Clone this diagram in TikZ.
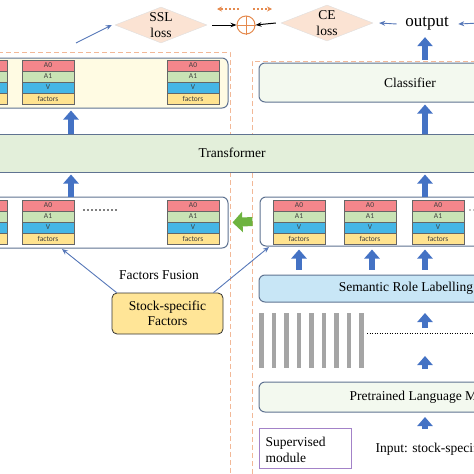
\documentclass[tikz,border=0pt]{standalone}
\usepackage{fontspec}
\setmainfont{Liberation Serif}
\newfontfamily\cellfont{Carlito}
\usetikzlibrary{arrows.meta, shapes.geometric}

\definecolor{a0col}{HTML}{F4868B}
\definecolor{a1col}{HTML}{C9E3B5}
\definecolor{vcol}{HTML}{45B6E6}
\definecolor{fcol}{HTML}{FFE38F}
\definecolor{blockline}{HTML}{5F7391}
\definecolor{yellowbg}{HTML}{FFFBE3}
\definecolor{transfill}{HTML}{E3EFDA}
\definecolor{clsfill}{HTML}{F3F9EF}
\definecolor{srlfill}{HTML}{C8E6F6}
\definecolor{lossfill}{HTML}{FBE3D3}
\definecolor{plusor}{HTML}{E58A4E}
\definecolor{dashorange}{HTML}{F2B897}
\definecolor{bluearr}{HTML}{4472C4}
\definecolor{thinblue}{HTML}{5677B8}
\definecolor{greenarr}{HTML}{6DB33F}
\definecolor{supcol}{HTML}{A382C8}
\definecolor{barcol}{HTML}{A5A5A5}
\definecolor{ssfcol}{HTML}{FFE597}

\tikzset{
  cell/.style={draw=gray!80!black, line width=0.5pt, minimum width=52pt, minimum height=11pt, inner sep=0pt, text=black!75, font=\cellfont\fontsize{7.5}{8}\selectfont},
  block/.style={draw=blockline, line width=1pt, rounded corners=6pt, inner sep=0pt},
  bigup/.style={line width=6pt, draw=bluearr, -{Triangle[length=9pt,width=15pt]}},
  thinarr/.style={draw=thinblue, line width=0.9pt, -{Stealth[length=6pt,width=5pt]}},
  loss/.style={diamond, fill=lossfill, draw=gray!25, inner sep=0pt, minimum width=92pt, minimum height=36pt},
  dashbox/.style={draw=dashorange, line width=0.8pt, dash pattern=on 5pt off 3pt},
  lbl/.style={font=\fontsize{13.5}{16}\selectfont, align=center}
}

\begin{document}
\begin{tikzpicture}[x=1pt, y=-1pt]
\useasboundingbox (0,0) rectangle (474,474);
\clip (0,0) rectangle (474,474);

\draw[dashbox] (-10,52) -- (230,52) -- (230,484);
\draw[dashbox] (484,61) -- (252,61) -- (252,484);

% losses
\node[loss] (ssl) at (161,25) {};
\node[lbl] (sslt) at (ssl) {SSL\\loss};
\node[loss] (ce) at (327,23) {};
\node[lbl] (cet) at (ce) {CE\\loss};
\node[circle, draw=plusor, line width=1pt, minimum size=18pt, inner sep=0pt] (sum) at (246,25) {};
\draw[plusor, line width=1pt] (sum.north) -- (sum.south) (sum.west) -- (sum.east);
\draw[line width=1pt, -{Stealth[length=6pt]}] ([xshift=5pt]ssl.east) -- (sum.west);
\draw[line width=1pt, -{Stealth[length=6pt]}] ([xshift=-5pt]ce.west) -- (sum.east);
\coordinate (ol1) at (239,9);
\coordinate (ol2) at (217,9);
\coordinate (or1) at (253,9);
\coordinate (or2) at (272,9);
\draw[plusor, line width=1.2pt, dash pattern=on 2pt off 2pt, -{Stealth[length=5pt,width=5pt]}] (ol1) -- (ol2);
\draw[plusor, line width=1.2pt, dash pattern=on 2pt off 2pt, -{Stealth[length=5pt,width=5pt]}] (or1) -- (or2);

\node[font=\fontsize{17}{20}\selectfont] (out) at (427,24) {output};
\coordinate (outin) at (480,23);
\draw[thinarr] (outin) -- ([xshift=6pt]out.east);
\draw[thinarr] ([xshift=-5pt]out.west) -- ([xshift=6pt]ce.east);
\coordinate (sslsrc) at (76,43);
\draw[thinarr] (sslsrc) -- ([xshift=-3pt]ssl.west);

% right column
\node[block, fill=clsfill, minimum width=302pt, minimum height=39pt, lbl] (cls) at (410,82.5) {Classifier};
\node[draw=blockline, line width=1pt, fill=transfill, minimum width=504pt, minimum height=38pt, lbl] (trans) at (232,153) {Transformer};

% token blocks
\node[block, fill=yellowbg, minimum width=248pt, minimum height=50pt] (lb1) at (104,83) {};
\node[block, fill=white, minimum width=248pt, minimum height=51pt] (lb2) at (104,222.5) {};
\node[block, fill=white, minimum width=260pt, minimum height=49pt] (rb2) at (390,221.5) {};
\foreach \sx/\sy/\sn/\sl in {-45/60/a/0, 22/60/b/1, 167/60/c/1, -45/200/d/0, 22/200/e/1, 167/200/f/1, 273/200/g/1, 344/200/h/1, 412/200/i/1} {
  \ifnum\sl=1
    \node[cell, fill=a0col] (\sn0) at (\sx+26,\sy+5.5) {A0};
    \node[cell, fill=a1col] (\sn1) at (\sx+26,\sy+16.5) {A1};
    \node[cell, fill=vcol] (\sn2) at (\sx+26,\sy+27.5) {V};
    \node[cell, fill=fcol] (\sn3) at (\sx+26,\sy+38.5) {factors};
  \else
    \node[cell, fill=a0col] (\sn0) at (\sx+26,\sy+5.5) {};
    \node[cell, fill=a1col] (\sn1) at (\sx+26,\sy+16.5) {};
    \node[cell, fill=vcol] (\sn2) at (\sx+26,\sy+27.5) {};
    \node[cell, fill=fcol] (\sn3) at (\sx+26,\sy+38.5) {};
  \fi
}
\draw[line width=1.6pt, line cap=round, dash pattern=on 0pt off 4pt] (84,210) -- (118,210);
\draw[line width=1.2pt, line cap=round, dash pattern=on 0pt off 4pt] (470,210) -- (482,210);
\draw[line width=9pt, draw=greenarr, -{Triangle[length=10pt,width=20pt]}] ([xshift=-7pt]rb2.west) -- ([xshift=4pt]lb2.east);

\coordinate (xl) at (71,0);
\coordinate (xr) at (425,0);
\draw[bigup, shorten >=2pt] (trans.north -| xl) -- (lb1.south -| xl);
\draw[bigup, shorten >=2pt] (lb2.north -| xl) -- (trans.south -| xl);
\draw[bigup, shorten >=2pt] (rb2.north -| xr) -- (trans.south -| xr);
\draw[bigup, shorten >=2pt] (trans.north -| xr) -- (cls.south -| xr);
\draw[bigup, shorten <=3pt, shorten >=3pt] (cls.north -| xr) -- (out.south -| xr);

% factors fusion
\node[draw=gray!40!black, fill=ssfcol, rounded corners=5pt, line width=0.8pt, minimum width=111pt, minimum height=41pt, lbl] (ssf) at (167.5,313.5) {Stock-specific\\[-1pt]Factors};
\node[lbl] (fuse) at (159,275) {Factors Fusion};
\coordinate (fl) at (62,249);
\coordinate (fr) at (269,247);
\draw[thinarr] ([xshift=5pt]ssf.north west) -- (fl);
\draw[thinarr] ([xshift=-10pt]ssf.north east) -- (fr);

% SRL and language model
\node[block, fill=srlfill, minimum width=294pt, minimum height=27pt, lbl] (srl) at (406,288.5) {Semantic Role Labelling};
\foreach \ax in {299,372,425} {
  \coordinate (ax) at (\ax,0);
  \draw[bigup, shorten <=5pt, shorten >=3pt] (srl.north -| ax) -- (rb2.south -| ax);
}
\foreach \k in {0,...,8}
  \fill[barcol] (259+\k*12.5,313) rectangle ++(4.5,55);
\draw[line width=1pt, dash pattern=on 1pt off 1.5pt] (367,333) -- (480,333);
\draw[bigup] (425,328) -- (425,313);
\draw[bigup] (425,369) -- (425,356);
\draw[bigup] (425,429) -- (425,417);
\node[block, fill=clsfill, minimum width=332pt, minimum height=30pt, lbl] (plm) at (425,397) {Pretrained Language Model};
\node[lbl, anchor=west] (inp) at (372,449) {Input: stock-specific};

\node[draw=supcol, line width=1pt, minimum width=92pt, minimum height=40pt] (sup) at (305,448) {};
\node[lbl, align=left, anchor=west] (supt) at (262,450) {Supervised\\module};
\end{tikzpicture}
\end{document}
